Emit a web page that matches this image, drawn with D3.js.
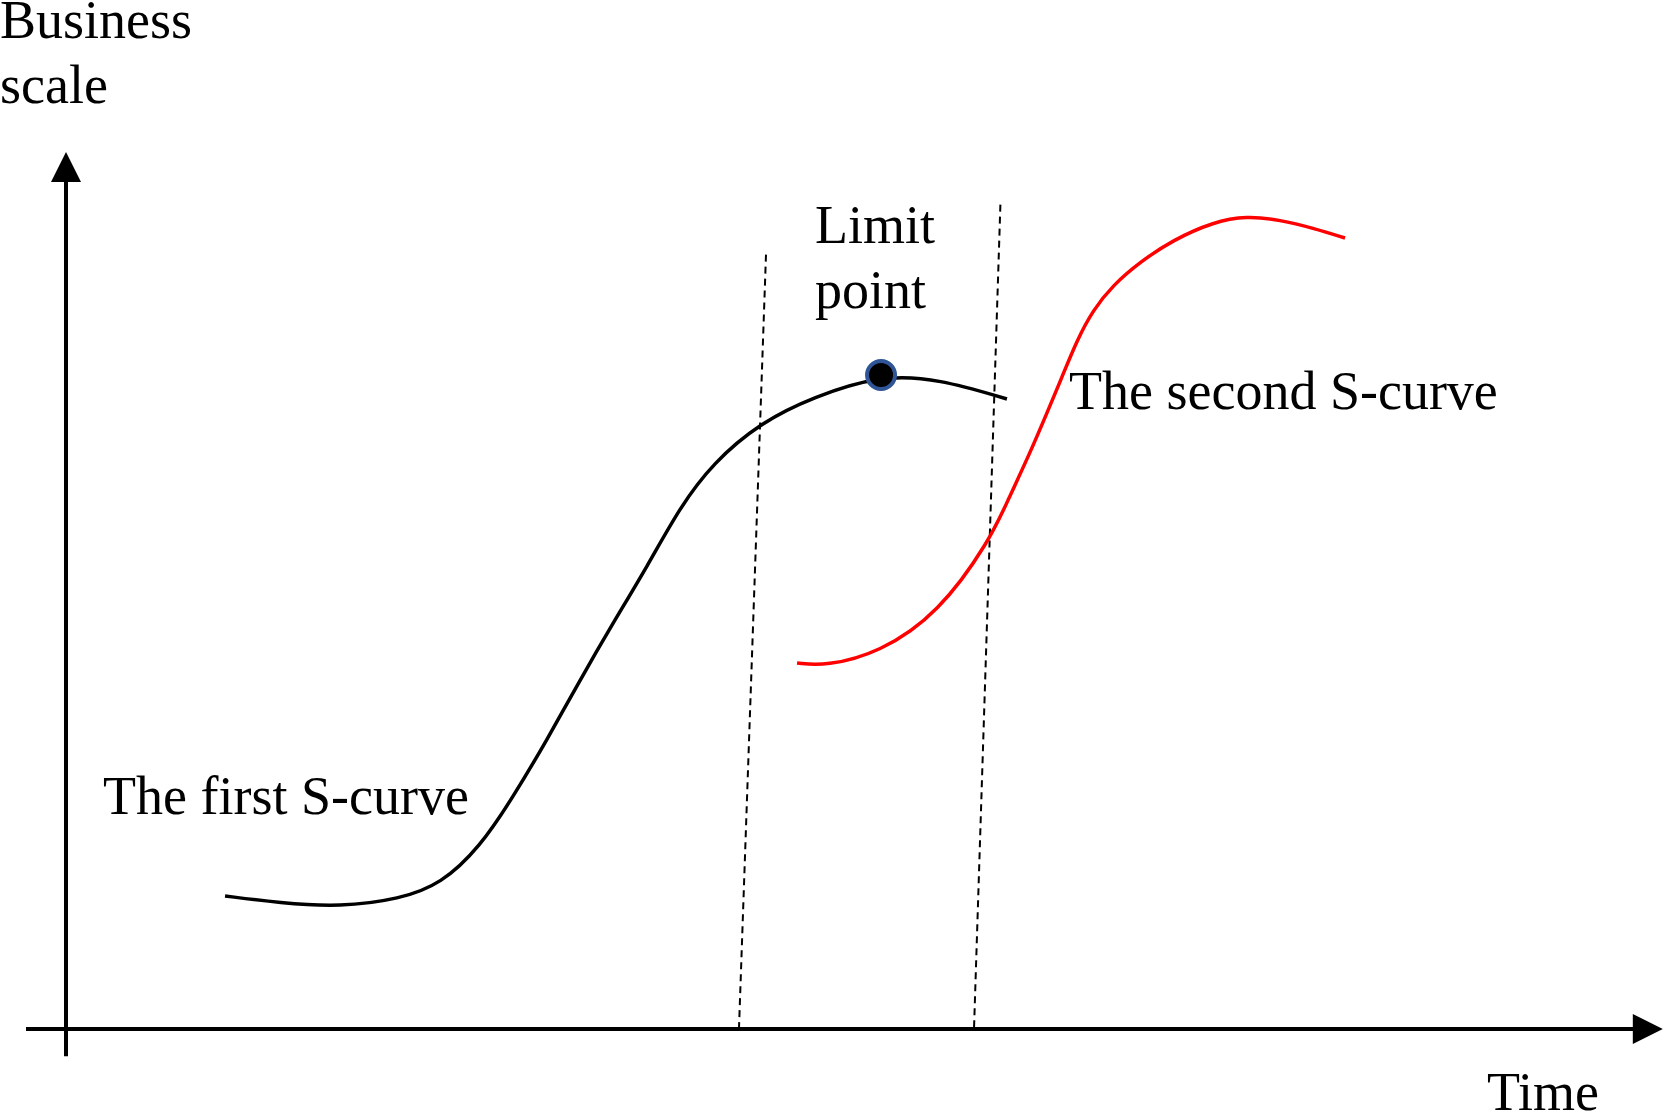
<!DOCTYPE html>
<html>
<head>
<meta charset="utf-8">
<script src="https://cdn.jsdelivr.net/npm/d3@7"></script>
<style>
  body { margin: 0; background: #fff; }
</style>
</head>
<body>
<div id="plot"></div>
<script>
// curve points (time, business scale)
let firstCurve = [
    [9.94, 15.17], [13.375, 14.37], [17.125, 13.91], [20.875, 14.82], [23.44, 16.53],
    [25.875, 20.75], [27.94, 26.45], [30.06, 32.95], [32.125, 39.79], [34.19, 46.29],
    [36.31, 52.68], [38.375, 59.52], [40.44, 64.54], [43.375, 69.10], [46.69, 72.06],
    [50.94, 74.57], [54.56, 74.12], [58.81, 71.84]
];
let secondCurve = [
    [45.69, 41.73], [47.5, 41.39], [50.81, 42.87], [54.56, 47.43], [57.75, 55.76],
    [58.875, 60.32], [60.25, 65.68], [61.31, 70.24], [62.25, 74.34], [63.19, 78.56],
    [64.19, 81.98], [65.44, 84.83], [67.125, 87.46], [69.19, 89.97], [71.69, 92.02],
    [73.81, 92.71], [75.875, 92.25], [77.94, 91.33], [79.94, 90.19]
];
let limitPoint = [50.94, 74.57];
let boundLeft = [[43.75, 88.3], [42.06, 0]];
let boundRight = [[58.4, 94.0], [56.75, 0]];

let axisLabels = { y: ["Business", "scale"], x: "Time" };
let curveLabels = ["The first S-curve", "The second S-curve"];
let limitLabel = ["Limit", "point"];

let width = 1667;
let height = 1114;

let svg = d3.select("#plot")
    .append("svg")
    .attr("width", width)
    .attr("height", height);

let x = d3.scaleLinear().domain([0, 100]).range([66, 1666]);
let y = d3.scaleLinear().domain([0, 100]).range([1029, 152]);

let font = "'Liberation Serif', 'Times New Roman', serif";

// axes with arrow heads
let arrow = 30;
svg.append("line")
    .attr("x1", x(-2.5)).attr("y1", y(0))
    .attr("x2", x(99.8) - arrow + 2).attr("y2", y(0))
    .attr("stroke", "#000").attr("stroke-width", 4);
svg.append("line")
    .attr("x1", x(0)).attr("y1", y(-3.1))
    .attr("x2", x(0)).attr("y2", y(100) + arrow - 2)
    .attr("stroke", "#000").attr("stroke-width", 4);

svg.append("path")
    .attr("d", "M" + x(99.8) + "," + y(0) + " L" + (x(99.8) - arrow) + "," + (y(0) - 15) + " L" + (x(99.8) - arrow) + "," + (y(0) + 15) + " Z")
    .attr("fill", "#000");
svg.append("path")
    .attr("d", "M" + x(0) + "," + y(100) + " L" + (x(0) - 15) + "," + (y(100) + arrow) + " L" + (x(0) + 15) + "," + (y(100) + arrow) + " Z")
    .attr("fill", "#000");

// dashed boundaries
let straight = d3.line().x(d => x(d[0])).y(d => y(d[1]));
[boundLeft, boundRight].forEach(function(b) {
    svg.append("path")
        .attr("d", straight(b))
        .attr("fill", "none")
        .attr("stroke", "#000")
        .attr("stroke-width", 2)
        .style("stroke-dasharray", "7,5");
});

let smooth = d3.line()
    .x(d => x(d[0]))
    .y(d => y(d[1]))
    .curve(d3.curveBasis);

svg.append("path")
    .datum(firstCurve)
    .attr("fill", "none")
    .attr("stroke", "#000")
    .attr("stroke-width", 3.5)
    .attr("d", smooth);

svg.append("path")
    .datum(secondCurve)
    .attr("fill", "none")
    .attr("stroke", "#ff0000")
    .attr("stroke-width", 3.5)
    .attr("d", smooth);

svg.append("circle")
    .attr("cx", x(limitPoint[0]))
    .attr("cy", y(limitPoint[1]))
    .attr("r", 14)
    .attr("fill", "#000")
    .attr("stroke", "#2f5597")
    .attr("stroke-width", 4);

// labels
function label(tx, ty, txt) {
    svg.append("text")
        .attr("x", tx)
        .attr("y", ty)
        .style("font-family", font)
        .style("font-size", "54px")
        .attr("fill", "#000")
        .text(txt);
}

label(0, 38, axisLabels.y[0]);
label(0, 103, axisLabels.y[1]);
label(1487, 1110, axisLabels.x);
label(815, 243, limitLabel[0]);
label(815, 308, limitLabel[1]);
label(103, 814, curveLabels[0]);
label(1069, 409, curveLabels[1]);
</script>
</body>
</html>
